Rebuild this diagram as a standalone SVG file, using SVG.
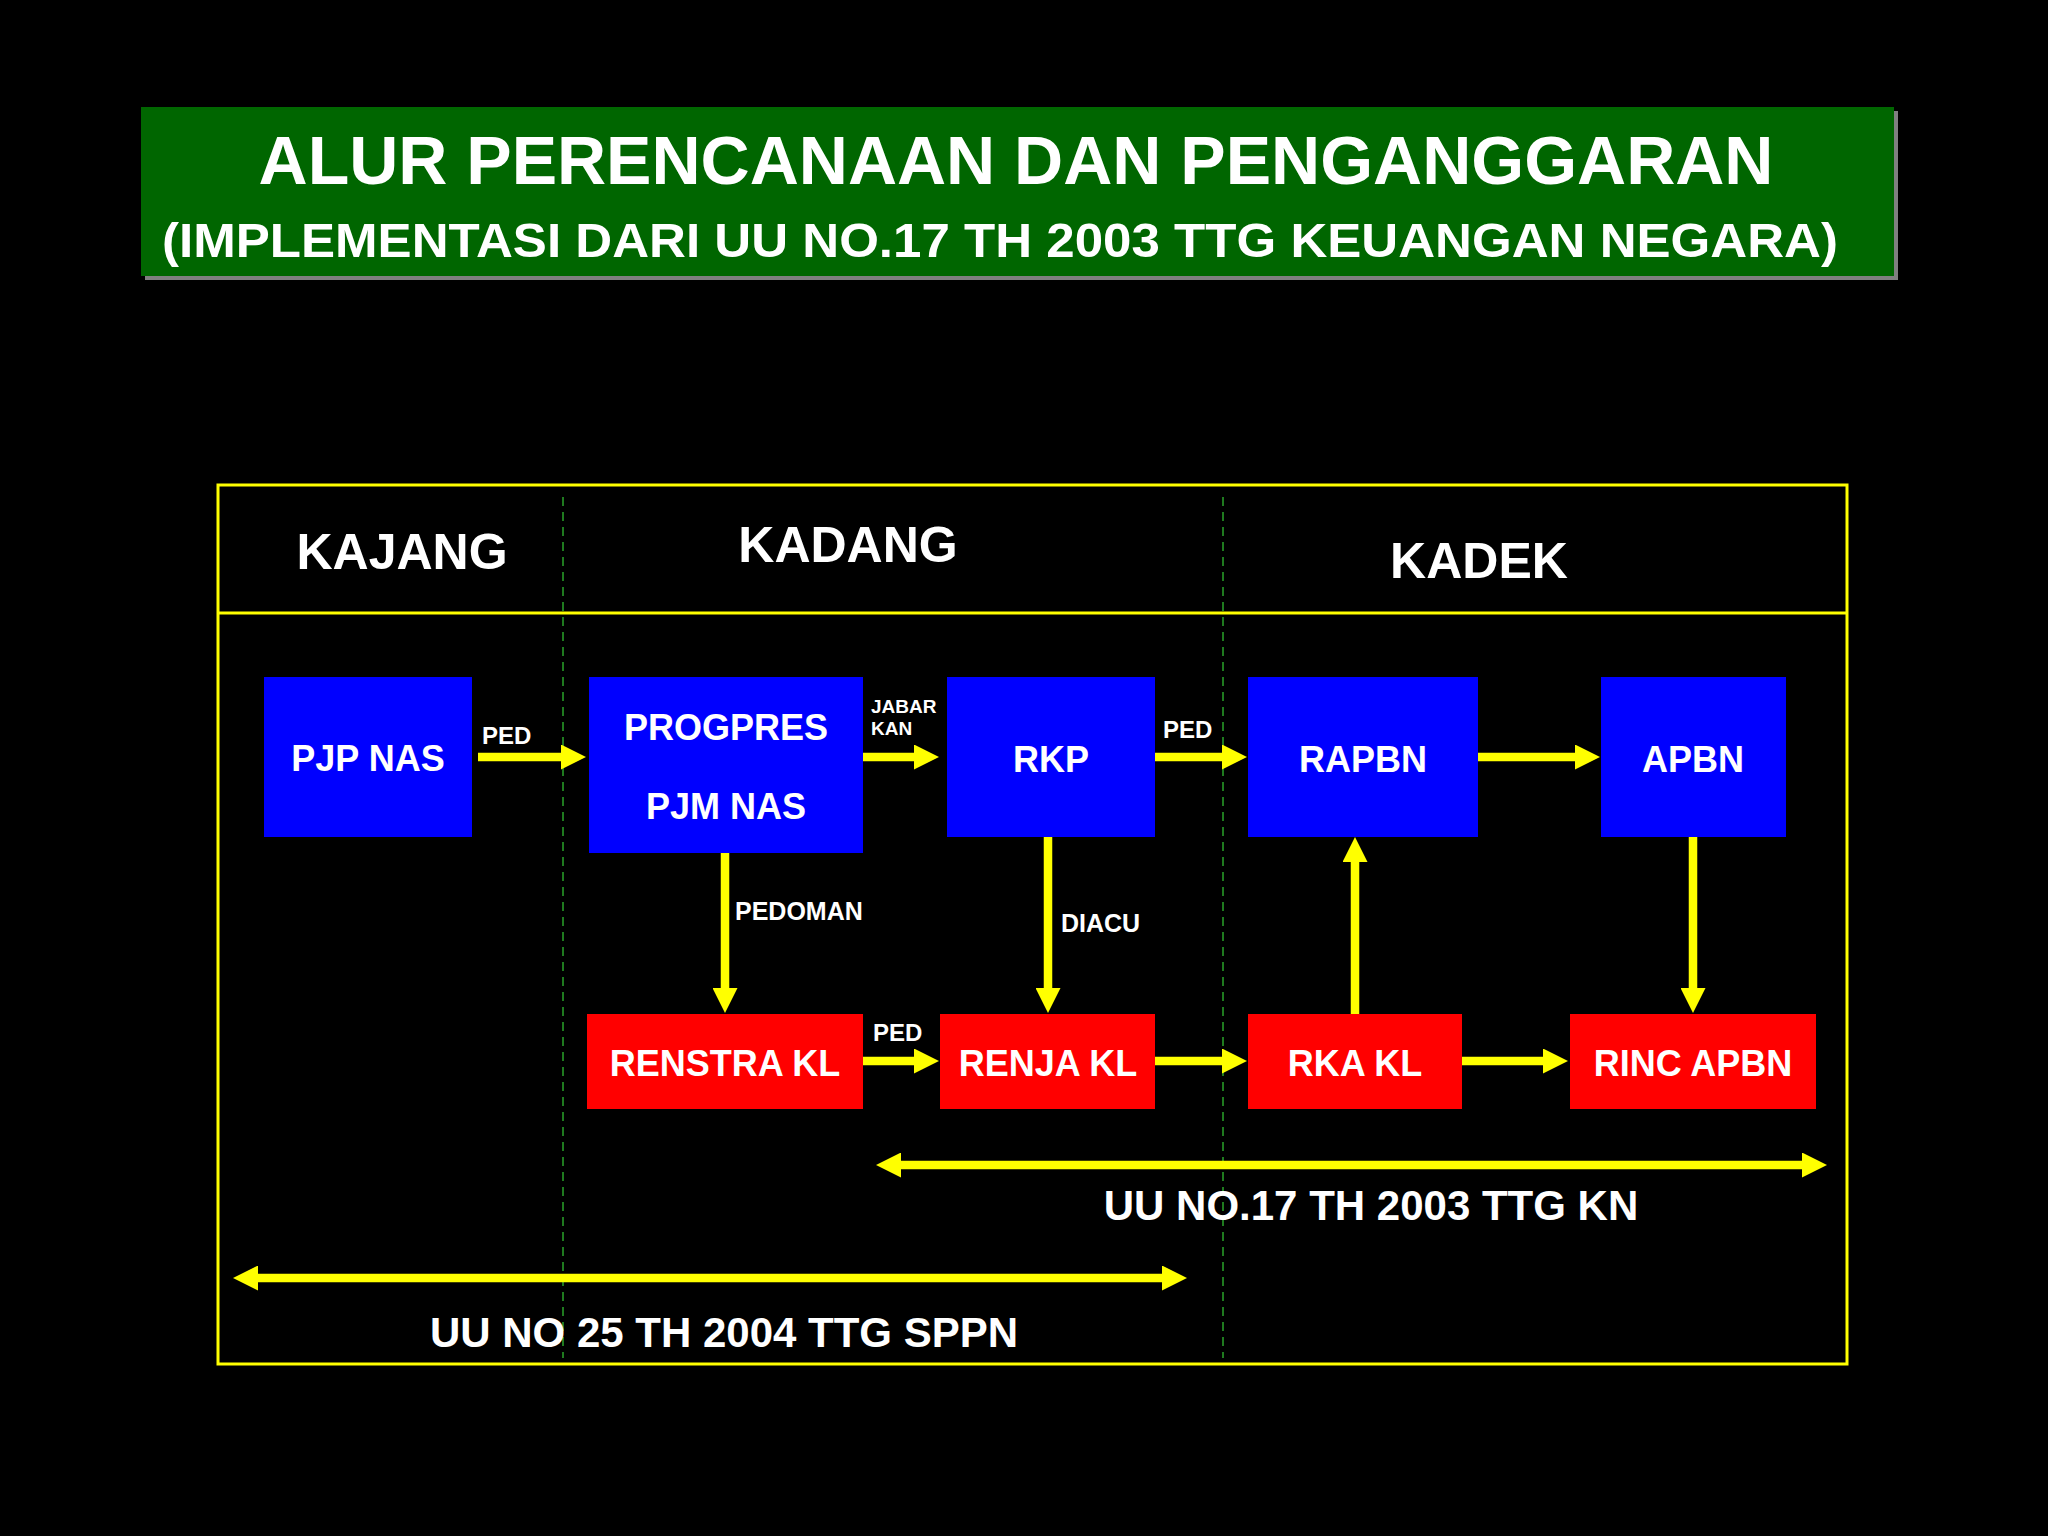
<svg xmlns="http://www.w3.org/2000/svg" width="2048" height="1536" viewBox="0 0 2048 1536">
<defs>
<style>
text{font-family:"Liberation Sans",Arial,sans-serif;font-weight:bold;fill:#FFFFFF}
.t1{font-size:68px;text-anchor:middle}
.t2{font-size:49px;text-anchor:middle}
.hd{font-size:50px;text-anchor:middle}
.nt{font-size:36px;text-anchor:middle}
.lb{font-size:24px}
.lb2{font-size:25px}
.lbs{font-size:19px}
.law{font-size:42px;text-anchor:middle}
.blue{fill:#0000FF}
.red{fill:#FF0000}
.conn{fill:none;stroke:#FFFF00;stroke-width:8.5}
.frame{fill:none;stroke:#FFFF00;stroke-width:3}
.div{fill:none;stroke:#1F7A1F;stroke-width:2;stroke-dasharray:9 6}
</style>
<marker id="ah" viewBox="0 0 25 25" markerUnits="userSpaceOnUse" markerWidth="25" markerHeight="25" refX="2" refY="12.5" orient="auto-start-reverse">
<path d="M0,0 L25,12.5 L0,25 Z" fill="#FFFF00"/>
</marker>
</defs>
<rect width="2048" height="1536" fill="#000000"/>

<g id="title">
<rect x="145" y="111" width="1753" height="169" fill="#808080"/>
<rect x="141" y="107" width="1753" height="169" fill="#006600"/>
<text class="t1" x="1016" y="184">ALUR PERENCANAAN DAN PENGANGGARAN</text>
<text class="t2" x="1000" y="257" textLength="1676" lengthAdjust="spacingAndGlyphs">(IMPLEMENTASI DARI UU NO.17 TH 2003 TTG KEUANGAN NEGARA)</text>
</g>

<g id="frame">
<rect class="frame" x="218" y="485" width="1629" height="879"/>
<line class="frame" x1="218" y1="613" x2="1847" y2="613"/>
<line class="div" x1="563" y1="497" x2="563" y2="1358"/>
<line class="div" x1="1223" y1="497" x2="1223" y2="1358"/>
<text class="hd" x="402" y="569">KAJANG</text>
<text class="hd" x="848" y="562">KADANG</text>
<text class="hd" x="1479" y="578">KADEK</text>
</g>

<g id="node-pjpnas">
<rect class="blue" x="264" y="677" width="208" height="160"/>
<text class="nt" x="368" y="771">PJP NAS</text>
</g>
<g id="node-progpres">
<rect class="blue" x="589" y="677" width="274" height="176"/>
<text class="nt" x="726" y="740">PROGPRES</text>
<text class="nt" x="726" y="819">PJM NAS</text>
</g>
<g id="node-rkp">
<rect class="blue" x="947" y="677" width="208" height="160"/>
<text class="nt" x="1051" y="772">RKP</text>
</g>
<g id="node-rapbn">
<rect class="blue" x="1248" y="677" width="230" height="160"/>
<text class="nt" x="1363" y="772">RAPBN</text>
</g>
<g id="node-apbn">
<rect class="blue" x="1601" y="677" width="185" height="160"/>
<text class="nt" x="1693" y="772">APBN</text>
</g>
<g id="node-renstra">
<rect class="red" x="587" y="1014" width="276" height="95"/>
<text class="nt" x="725" y="1076">RENSTRA KL</text>
</g>
<g id="node-renja">
<rect class="red" x="940" y="1014" width="215" height="95"/>
<text class="nt" x="1048" y="1076">RENJA KL</text>
</g>
<g id="node-rkakl">
<rect class="red" x="1248" y="1014" width="214" height="95"/>
<text class="nt" x="1355" y="1076">RKA KL</text>
</g>
<g id="node-rincapbn">
<rect class="red" x="1570" y="1014" width="246" height="95"/>
<text class="nt" x="1693" y="1076">RINC APBN</text>
</g>

<g id="connectors">
<path class="conn" d="M478,757 H563" marker-end="url(#ah)"/>
<path class="conn" d="M863,757 H916" marker-end="url(#ah)"/>
<path class="conn" d="M1155,757 H1224" marker-end="url(#ah)"/>
<path class="conn" d="M1478,757 H1577" marker-end="url(#ah)"/>
<path class="conn" d="M725,853 V990" marker-end="url(#ah)"/>
<path class="conn" d="M1048,837 V990" marker-end="url(#ah)"/>
<path class="conn" d="M1355,1014 V860" marker-end="url(#ah)"/>
<path class="conn" d="M1693,837 V990" marker-end="url(#ah)"/>
<path class="conn" d="M863,1061 H916" marker-end="url(#ah)"/>
<path class="conn" d="M1155,1061 H1224" marker-end="url(#ah)"/>
<path class="conn" d="M1462,1061 H1545" marker-end="url(#ah)"/>
<path class="conn" d="M899,1165 H1804" marker-start="url(#ah)" marker-end="url(#ah)"/>
<path class="conn" d="M256,1278 H1164" marker-start="url(#ah)" marker-end="url(#ah)"/>
<text class="lb" x="482" y="744">PED</text>
<text class="lbs" x="871" y="713">JABAR</text>
<text class="lbs" x="871" y="735">KAN</text>
<text class="lb" x="1163" y="738">PED</text>
<text class="lb2" x="735" y="920">PEDOMAN</text>
<text class="lb2" x="1061" y="932">DIACU</text>
<text class="lb" x="873" y="1041">PED</text>
<text class="law" x="1371" y="1220">UU NO.17 TH 2003 TTG KN</text>
<text class="law" x="724" y="1347">UU NO 25 TH 2004 TTG SPPN</text>
</g>
</svg>
